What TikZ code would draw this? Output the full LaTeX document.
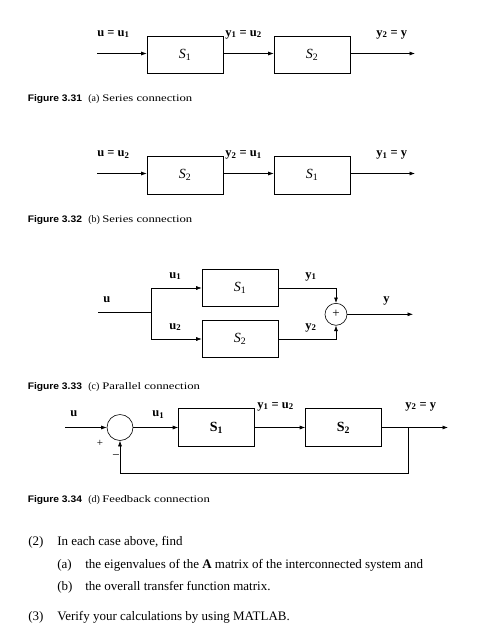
\documentclass[tikz,border=0pt]{standalone}
\usepackage{graphicx}
\usepackage{fontspec}
\setmainfont{Liberation Serif}
\newfontfamily\capsans{Liberation Sans}
\usetikzlibrary{arrows.meta}
\begin{document}
\begin{tikzpicture}[x=1pt,y=-1pt,
  line width=0.6pt,
  blk/.style={draw, minimum width=76pt, minimum height=37.5pt, inner sep=0pt, font=\fontsize{14}{16}\selectfont},
  sig/.style={-{Latex[length=5.5pt,width=4pt]}},
  lbl/.style={anchor=base west, inner sep=0pt, font=\fontsize{12.5}{14}\selectfont\bfseries},
  sumc/.style={draw, circle, minimum size=#1, inner sep=0pt},
  capf/.style={anchor=base west, inner sep=0pt, font=\capsans\bfseries\fontsize{9.5}{11}\selectfont},
  capl/.style={anchor=base west, inner sep=0pt, font=\fontsize{10}{12}\selectfont},
  capt/.style={anchor=base west, inner sep=0pt, font=\fontsize{10}{12}\selectfont},
  txt/.style={anchor=base west, inner sep=0pt, font=\fontsize{13}{15}\selectfont}]
\useasboundingbox (0,0) rectangle (488,638);
\newcommand{\Sb}[1]{\textit{S}\textsubscript{\upshape #1}}
\newcommand{\bv}[2]{\textbf{#1}\textsubscript{\bfseries #2}}
\newcommand{\wide}[1]{\scalebox{1.27}[1]{#1}}
% ---------- (a)
\coordinate (a0) at (97,53.5);
\node[blk] (a1) at (185,54.7) {\Sb{1}};
\node[blk] (a2) at (312,54.7) {\Sb{2}};
\coordinate (a3) at (415,53.5);
\draw[sig] (a0) -- (a0 -| a1.west);
\draw[sig] (a0 -| a1.east) -- (a0 -| a2.west);
\draw[sig] (a0 -| a2.east) -- (a3);
\node[lbl] (la0) at (97,36) {u = \bv{u}{1}};
\node[lbl] (la1) at (225,36) {\bv{y}{1} = \bv{u}{2}};
\node[lbl] (la2) at (376,36) {\bv{y}{2} = y};
\node[capf] (caf) at (27.5,101.3) {\scalebox{1.08}[1]{Figure 3.31}};
\node[capl] (cal) at (88,101.3) {(a)};
\node[capt] (cat) at (102,101.3) {\wide{Series connection}};
% ---------- (b)
\coordinate (b0) at (97,173.5);
\node[blk] (b1) at (185,175.2) {\Sb{2}};
\node[blk] (b2) at (312,175.2) {\Sb{1}};
\coordinate (b3) at (415,173.5);
\draw[sig] (b0) -- (b0 -| b1.west);
\draw[sig] (b0 -| b1.east) -- (b0 -| b2.west);
\draw[sig] (b0 -| b2.east) -- (b3);
\node[lbl] (lb0) at (97,156.5) {u = \bv{u}{2}};
\node[lbl] (lb1) at (225,156.5) {\bv{y}{2} = \bv{u}{1}};
\node[lbl] (lb2) at (376,156.5) {\bv{y}{1} = y};
\node[capf] (cbf) at (27.5,222.5) {\scalebox{1.08}[1]{Figure 3.32}};
\node[capl] (cbl) at (88,222.5) {(b)};
\node[capt] (cbt) at (102,222.5) {\wide{Series connection}};
% ---------- (c)
\coordinate (c0) at (98,312.3);
\coordinate (cj) at (151,312.3);
\node[blk] (c1) at (240,288) {\Sb{1}};
\node[blk] (c2) at (240,339) {\Sb{2}};
\node[sumc=22pt, font=\fontsize{13}{14}\selectfont] (cs) at (336,314.3) {+};
\coordinate (c3) at (413,314.3);
\draw (c0) -- (cj);
\draw[sig] (cj) |- (c1.west);
\draw[sig] (cj) |- (c2.west);
\draw[sig] (c1.east) -| (cs.north);
\draw[sig] (c2.east) -| (cs.south);
\draw[sig] (cs.east) -- (c3);
\node[lbl] (lc0) at (103,302) {u};
\node[lbl] (lc1) at (169,278) {\bv{u}{1}};
\node[lbl] (lc2) at (169,329) {\bv{u}{2}};
\node[lbl] (lc3) at (305,278) {\bv{y}{1}};
\node[lbl] (lc4) at (305,329) {\bv{y}{2}};
\node[lbl] (lc5) at (383,302) {y};
\node[capf] (ccf) at (27.5,389.3) {\scalebox{1.08}[1]{Figure 3.33}};
\node[capl] (ccl) at (88,389.3) {(c)};
\node[capt] (cct) at (102,389.3) {\wide{Parallel connection}};
% ---------- (d)
\coordinate (d0) at (65,427.5);
\node[sumc=26pt] (ds) at (120,427.5) {};
\node[blk] (d1) at (216.5,427.5) {\textbf{S}\textsubscript{\bfseries 1}};
\node[blk] (d2) at (343.5,427.5) {\textbf{S}\textsubscript{\bfseries 2}};
\coordinate (d3) at (448,427.5);
\coordinate (dt) at (408,427.5);
\coordinate (db) at (408,473);
\draw[sig] (d0) -- (ds.west);
\draw[sig] (ds.east) -- (d1.west);
\draw[sig] (d1.east) -- (d2.west);
\draw[sig] (d2.east) -- (d3);
\draw[sig] (dt) -- (db) -| (ds.south);
\node[lbl] (ld0) at (70,416.5) {u};
\node[lbl] (ld1) at (152,416.5) {\bv{u}{1}};
\node[lbl] (ld2) at (257,408) {\bv{y}{1} = \bv{u}{2}};
\node[lbl] (ld3) at (405,408) {\bv{y}{2} = y};
\node[font=\fontsize{11}{12}\selectfont, inner sep=0pt] (dp) at (100,443) {+};
\node[font=\fontsize{13}{14}\selectfont, inner sep=0pt] (dm) at (116,457) {\textminus};
\node[capf] (cdf) at (27.5,502.3) {\scalebox{1.08}[1]{Figure 3.34}};
\node[capl] (cdl) at (88,502.3) {(d)};
\node[capt] (cdt) at (102,502.3) {\wide{Feedback connection}};
% ---------- text
\node[txt] (t1) at (28,545) {(2)};
\node[txt] (t2) at (57,545) {In each case above, find};
\node[txt] (t3) at (57,568) {(a)};
\node[txt] (t4) at (85,568) {the eigenvalues of the \textbf{A} matrix of the interconnected system and};
\node[txt] (t5) at (57,590.5) {(b)};
\node[txt] (t6) at (85,590.5) {the overall transfer function matrix.};
\node[txt] (t7) at (28,620) {(3)};
\node[txt] (t8) at (57,620) {Verify your calculations by using MATLAB.};
\end{tikzpicture}
\end{document}
